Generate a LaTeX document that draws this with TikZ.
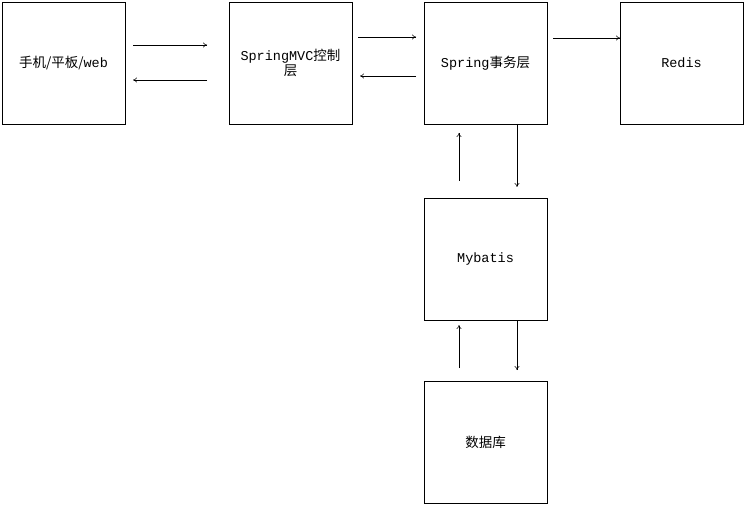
\documentclass[tikz,border=0pt]{standalone}
\usetikzlibrary{arrows.meta}
\usepackage{fontspec}
\setmainfont{Liberation Mono}
\newfontfamily\cjk{Noto Sans CJK SC}
\begin{document}
\begin{tikzpicture}[x=1pt,y=-1pt,
  box/.style={draw,line width=0.6pt,minimum width=123pt,minimum height=122pt,inner sep=0pt,align=center,font=\fontsize{13.5}{15}\selectfont},
  arr/.style={-{To[length=4pt,width=5pt]},line width=0.5pt}]
\useasboundingbox (0,0) rectangle (744,505);
\node[box] (a) at (63.5,63) {{\cjk 手机/平板/}web};
\node[box] (b) at (290.5,63) {SpringMVC{\cjk 控制}\\{\cjk 层}};
\node[box] (c) at (485.5,63) {Spring{\cjk 事务层}};
\node[box] (d) at (681.5,63) {Redis};
\node[box] (e) at (485.5,259) {Mybatis};
\node[box] (f) at (485.5,442) {{\cjk 数据库}};
\coordinate (a1) at (133,45); \coordinate (b1) at (207,45);
\coordinate (b2) at (207,80); \coordinate (a2) at (133,80);
\coordinate (b3) at (358,37); \coordinate (c3) at (416,37);
\coordinate (c4) at (416,76); \coordinate (b4) at (360,76);
\coordinate (c5) at (553,38); \coordinate (d5) at (620,38);
\coordinate (c6) at (517,124); \coordinate (e6) at (517,187);
\coordinate (e7) at (459,181); \coordinate (c7) at (459,133);
\coordinate (e8) at (517,320); \coordinate (f8) at (517,370);
\coordinate (f9) at (459,368); \coordinate (e9) at (459,325);
\draw[arr] (a1) -- (b1);
\draw[arr] (b2) -- (a2);
\draw[arr] (b3) -- (c3);
\draw[arr] (c4) -- (b4);
\draw[arr] (c5) -- (d5);
\draw[arr] (c6) -- (e6);
\draw[arr] (e7) -- (c7);
\draw[arr] (e8) -- (f8);
\draw[arr] (f9) -- (e9);
\end{tikzpicture}
\end{document}
